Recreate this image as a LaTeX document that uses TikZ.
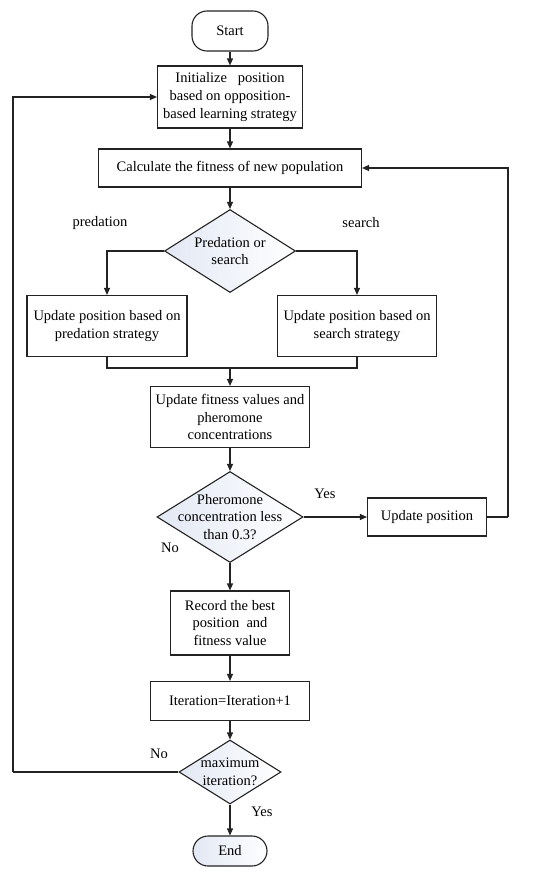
\documentclass[tikz,border=0pt]{standalone}
\usepackage{fontspec}
\setmainfont{Liberation Serif}
\usetikzlibrary{shapes.geometric,arrows.meta}
\definecolor{lc}{RGB}{35,35,35}
\definecolor{sh}{RGB}{226,232,244}
\begin{document}
\begin{tikzpicture}[x=1pt,y=-1pt,
  font=\fontsize{14.5}{17.8}\selectfont,
  every node/.style={inner sep=0pt, align=center},
  box/.style={draw=lc, line width=1.1pt, fill=white, rectangle},
  term/.style={draw=lc, line width=1.1pt, rectangle, rounded corners=15pt, left color=sh, right color=white},
  dia/.style={draw=lc, line width=1.1pt, diamond, left color=sh, right color=white},
  arr/.style={draw=lc, line width=1.1pt, -{Triangle[length=7pt,width=6pt]}},
  ln/.style={draw=lc, line width=1.1pt},
  lab/.style={}
]
\useasboundingbox (0,0) rectangle (550,881);

\node[term, minimum width=76pt, minimum height=40pt, fill=white, left color=white, right color=white] (start) at (230,31) {Start};
\node[box, minimum width=145pt, minimum height=62pt] (init) at (230,97) {Initialize\ \ \ position\\based on opposition-\\based learning strategy};
\node[box, minimum width=263pt, minimum height=38pt] (calc) at (230,168) {Calculate the fitness of new population};
\node[dia, minimum width=131pt, minimum height=83pt,
      label={[align=center]center:Predation or\\search}] (d1) at (230,251) {};
\node[box, minimum width=160pt, minimum height=61pt] (pbox) at (107,326) {Update position based on\\predation strategy};
\node[box, minimum width=159pt, minimum height=61pt] (sbox) at (357,326) {Update position based on\\search strategy};
\node[box, minimum width=159pt, minimum height=61pt] (fit) at (230,417) {Update fitness values and\\pheromone\\concentrations};
\node[dia, minimum width=146pt, minimum height=91pt,
      label={[align=center]center:Pheromone\\concentration less\\than 0.3?}] (d2) at (230,517) {};
\node[box, minimum width=119pt, minimum height=38pt] (upd) at (427,517) {Update position};
\node[box, minimum width=119pt, minimum height=64pt] (rec) at (230,623) {Record the best\\position\ \ and\\fitness value};
\node[box, minimum width=159pt, minimum height=39pt] (iter) at (230,701) {Iteration=Iteration+1};
\node[dia, minimum width=102pt, minimum height=64pt,
      label={[align=center]center:maximum\\iteration?}] (d3) at (230,772) {};
\node[term, minimum width=74pt, minimum height=30pt] (end) at (230,851) {End};

\node[lab] (lpred) at (100,223) {predation};
\node[lab] (lsearch) at (361,223) {search};
\node[lab] (lyes1) at (325,494) {Yes};
\node[lab] (lno1) at (170,548) {No};
\node[lab] (lno2) at (159,754) {No};
\node[lab] (lyes2) at (262,812) {Yes};

\coordinate (m) at (230,368);
\coordinate (rx) at (508,517);
\coordinate (lx) at (13,772);

\draw[arr] (start) -- (init);
\draw[arr] (init) -- (calc);
\draw[arr] (calc) -- (d1);
\draw[arr] (d1.west) -| (pbox.north);
\draw[arr] (d1.east) -| (sbox.north);
\draw[ln] (pbox.south) |- (m) -| (sbox.south);
\draw[arr] (m) -- (fit.north);
\draw[arr] (fit) -- (d2.north);
\draw[arr] (d2.east) -- (upd.west);
\draw[ln] (upd.east) -- (rx);
\draw[arr] (rx) |- (calc.east);
\draw[arr] (d2.south) -- (rec.north);
\draw[arr] (rec) -- (iter);
\draw[arr] (iter) -- (d3.north);
\draw[ln] (d3.west) -- (lx);
\draw[arr] (lx) |- (init.west);
\draw[arr] (d3.south) -- (end.north);
\end{tikzpicture}
\end{document}
